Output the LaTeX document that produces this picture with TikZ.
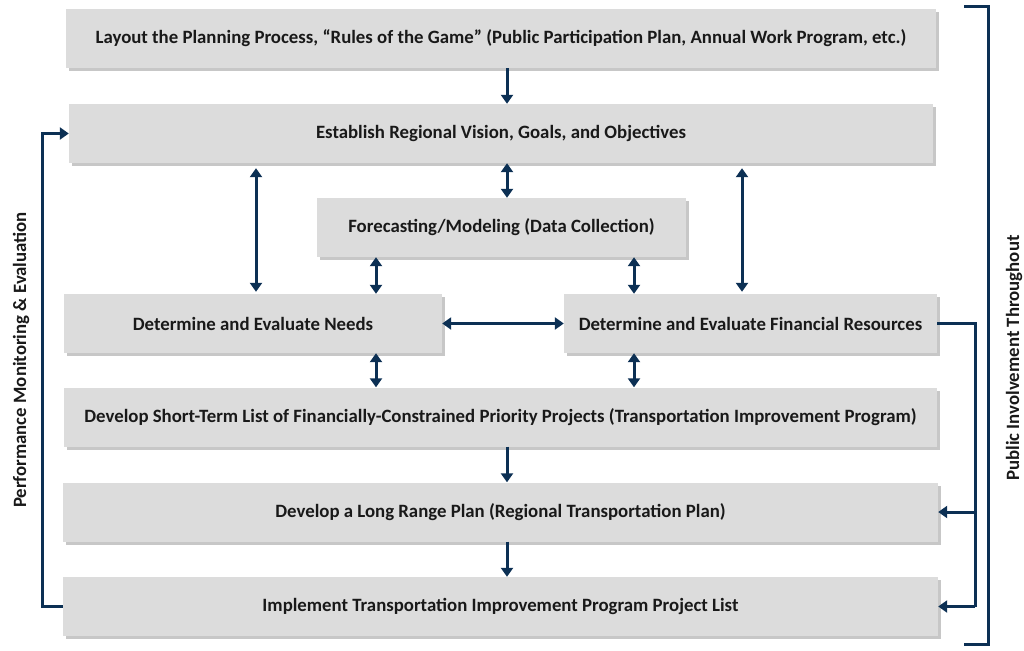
\documentclass[tikz,border=0pt]{standalone}
\usepackage{fontspec}
\setmainfont{Carlito}
\usetikzlibrary{arrows.meta, shadows, calc}
\definecolor{navy}{RGB}{12,48,84}
\definecolor{boxgrey}{RGB}{220,220,220}

\begin{document}
\begin{tikzpicture}[x=1pt, y=-1pt,
  stage/.style={fill=boxgrey, font=\fontsize{18.8}{22}\selectfont\bfseries, text=black!90,
    inner sep=0pt, minimum height=59pt,
    drop shadow={shadow xshift=3pt, shadow yshift=-3pt, fill=black!40, opacity=0.55}},
  flow/.style={navy, line width=3pt, -{Triangle[width=12pt,length=9pt]}},
  both/.style={navy, line width=3pt, {Triangle[width=12pt,length=9pt]}-{Triangle[width=12pt,length=9pt]}},
  side/.style={font=\fontsize{18.8}{22}\selectfont\bfseries, text=black!90, rotate=90}]
  \useasboundingbox (0,0) rectangle (1024,650);
  % process stages
  \node[stage, minimum width=870pt] (layout) at (501,38.5) {Layout the Planning Process, “Rules of the Game” (Public Participation Plan, Annual Work Program, etc.)};
  \node[stage, minimum width=864pt] (vision) at (501,133.5) {Establish Regional Vision, Goals, and Objectives};
  \node[stage, minimum width=369pt] (forecast) at (501.5,227.5) {Forecasting/Modeling (Data Collection)};
  \node[stage, minimum width=378pt] (needs) at (253,323.5) {Determine and Evaluate Needs};
  \node[stage, minimum width=373pt] (finance) at (750.5,323.5) {Determine and Evaluate Financial Resources};
  \node[stage, minimum width=873pt] (shortlist) at (500.5,417) {Develop Short-Term List of Financially-Constrained Priority Projects (Transportation Improvement Program)};
  \node[stage, minimum width=875pt] (longrange) at (500.5,512) {Develop a Long Range Plan (Regional Transportation Plan)};
  \node[stage, minimum width=875pt] (implement) at (500.5,606.5) {Implement Transportation Improvement Program Project List};
  % side labels
  \node[side] (perf) at (21,360) {Performance Monitoring \& Evaluation};
  \node[side] (public) at (1014,358) {Public Involvement Throughout};
  % arrow columns
  \coordinate (colA) at (256,0);
  \coordinate (colB) at (376,0);
  \coordinate (colC) at (507,0);
  \coordinate (colD) at (634,0);
  \coordinate (colE) at (742,0);
  \coordinate (busR) at (975,0);
  \draw[flow] (layout.south -| colC) -- (vision.north -| colC);
  \draw[both] (vision.south -| colC) -- (forecast.north -| colC);
  \draw[both, shorten <=5pt, shorten >=2pt] (vision.south -| colA) -- (needs.north -| colA);
  \draw[both, shorten <=5pt, shorten >=2pt] (vision.south -| colE) -- (finance.north -| colE);
  \draw[both] (forecast.south -| colB) -- (needs.north -| colB);
  \draw[both] (forecast.south -| colD) -- (finance.north -| colD);
  \draw[both] (needs.east) -- (finance.west);
  \draw[both] (needs.south -| colB) -- (shortlist.north -| colB);
  \draw[both] (finance.south -| colD) -- (shortlist.north -| colD);
  \draw[flow] (shortlist.south -| colC) -- (longrange.north -| colC);
  \draw[flow] (longrange.south -| colC) -- (implement.north -| colC);
  % feedback loop
  \draw[flow] (implement.west) -- ++(-20,0) |- (vision.west);
  \draw[navy, line width=3pt] (finance.east) -| (busR |- implement.east);
  \draw[flow] (busR |- longrange.east) -- (longrange.east);
  \draw[flow] (busR |- implement.east) -- (implement.east);
  % bracket
  \draw[navy, line width=3pt] (964,7) -- (988,7) -- (988,644) -- (964,644);
\end{tikzpicture}
\end{document}
